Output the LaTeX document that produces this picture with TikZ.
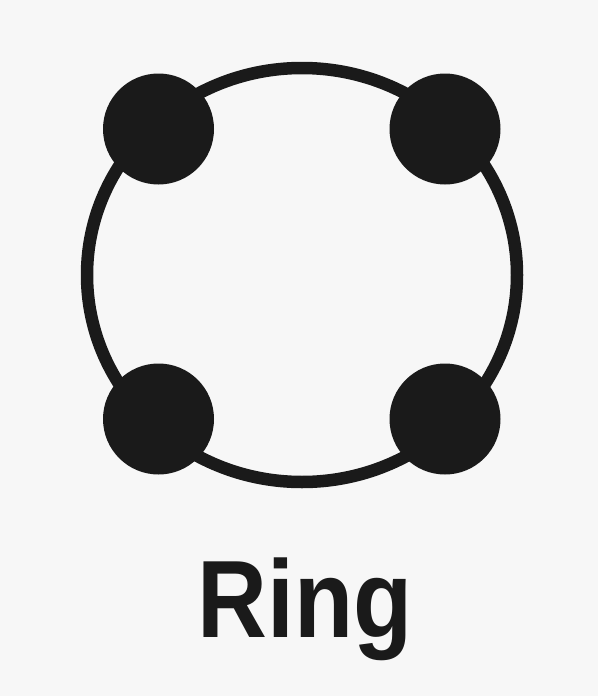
\documentclass[tikz,border=0pt]{standalone}
\usepackage{fontspec}
\usepackage{tikz}
\usetikzlibrary{shapes}
\newfontfamily\ringfont[FakeStretch=0.88]{Liberation Sans Bold}
\definecolor{bgcol}{HTML}{F7F7F7}
\definecolor{inkcol}{HTML}{1A1A1A}
\tikzset{
	ringline/.style={draw=inkcol, line width=12.5pt},
	dot/.style={circle, fill=inkcol, minimum size=111pt, inner sep=0pt},
	title/.style={font=\ringfont\fontsize{110}{110}\selectfont, text=inkcol, anchor=base, inner sep=0pt}
}
\begin{document}
\begin{tikzpicture}[x=1pt,y=-1pt]
		% the page
		\fill[bgcol] (0,0) rectangle (598,696);
		\useasboundingbox (0,0) rectangle (598,696);

		% the ring
		\coordinate (ctr) at (302,275);
		\draw[ringline] (ctr) ellipse [x radius=215pt, y radius=207pt];

		% the dots
		\node[dot] (tl) at (158.5,129) {};
		\node[dot] (tr) at (445,129) {};
		\node[dot] (bl) at (158.5,419) {};
		\node[dot] (br) at (445,419) {};

		% the label
		\node[title] (lbl) at (305.5,637) {Ring};
	\end{tikzpicture}
\end{document}
